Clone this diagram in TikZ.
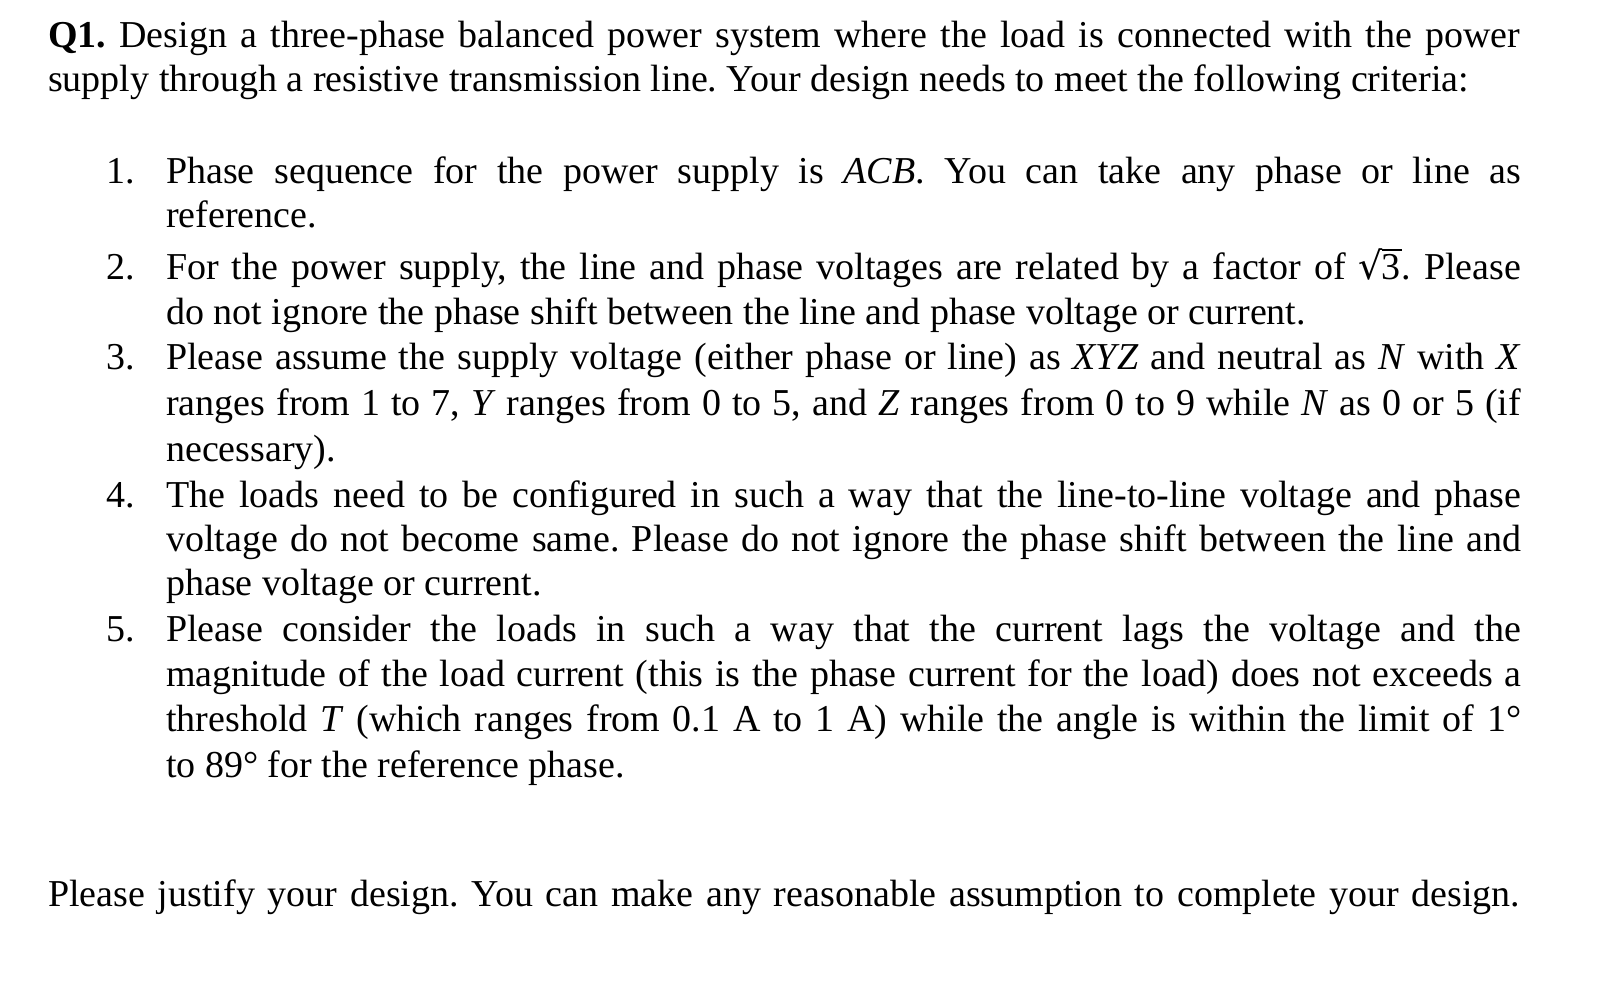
\documentclass[tikz,border=0pt]{standalone}
\usepackage{fontspec}
\setmainfont{Liberation Serif}
\newfontfamily\djv{DejaVu Serif}
\newcommand\sqrtthree{{\djv √}\kern-0.02em\ooalign{\rule[0.74em]{0.52em}{0.045em}\cr 3}}
\begin{document}
\frenchspacing
\begin{tikzpicture}[x=1pt,y=1pt,
  txt/.style={anchor=base west,inner sep=0pt,font=\fontsize{38}{44}\selectfont\frenchspacing},
  num/.style={anchor=base west,inner sep=0pt,font=\fontsize{38}{44}\selectfont}]
\useasboundingbox (0,0) rectangle (1602,-990);
\def\W{1472}
\def\L{1355}
\newcommand\jl[2]{\makebox[#1pt][s]{#2}}
\node[txt] (p1) at (48,-48) {\jl{\W}{\textbf{Q1.} Design a three-phase balanced power system where the load is connected with the power}};
\node[txt] (p2) at (48,-91) {supply through a resistive transmission line. Your design needs to meet the following criteria:};
% item 1
\node[num] (n1) at (106,-183) {1.};
\node[txt] (a1) at (166,-183) {\jl{\L}{Phase sequence for the power supply is \textit{ACB}. You can take any phase or line as}};
\node[txt] (a2) at (166,-227) {reference.};
% item 2
\node[num] (n2) at (106,-279) {2.};
\node[txt] (b1) at (166,-279) {\jl{\L}{For the power supply, the line and phase voltages are related by a factor of \sqrtthree. Please}};
\node[txt] (b2) at (166,-324) {do not ignore the phase shift between the line and phase voltage or current.};
% item 3
\node[num] (n3) at (106,-369) {3.};
\node[txt] (c1) at (166,-369) {\jl{\L}{Please assume the supply voltage (either phase or line) as \textit{XYZ} and neutral as \textit{N} with \textit{X}}};
\node[txt] (c2) at (166,-415) {\jl{\L}{ranges from 1 to 7, \textit{Y} ranges from 0 to 5, and \textit{Z} ranges from 0 to 9 while \textit{N} as 0 or 5 (if}};
\node[txt] (c3) at (166,-461) {necessary).};
% item 4
\node[num] (n4) at (106,-507) {4.};
\node[txt] (d1) at (166,-507) {\jl{\L}{The loads need to be configured in such a way that the line-to-line voltage and phase}};
\node[txt] (d2) at (166,-551) {\jl{\L}{voltage do not become same. Please do not ignore the phase shift between the line and}};
\node[txt] (d3) at (166,-595) {phase voltage or current.};
% item 5
\node[num] (n5) at (106,-641) {5.};
\node[txt] (e1) at (166,-641) {\jl{\L}{Please consider the loads in such a way that the current lags the voltage and the}};
\node[txt] (e2) at (166,-686) {\jl{\L}{magnitude of the load current (this is the phase current for the load) does not exceeds a}};
\node[txt] (e3) at (166,-731) {\jl{\L}{threshold \textit{T} (which ranges from 0.1 A to 1 A) while the angle is within the limit of 1°}};
\node[txt] (e4) at (166,-777) {to 89° for the reference phase.};
\node[txt] (f1) at (48,-906) {\jl{\W}{Please justify your design. You can make any reasonable assumption to complete your design.}};
\end{tikzpicture}
\end{document}
